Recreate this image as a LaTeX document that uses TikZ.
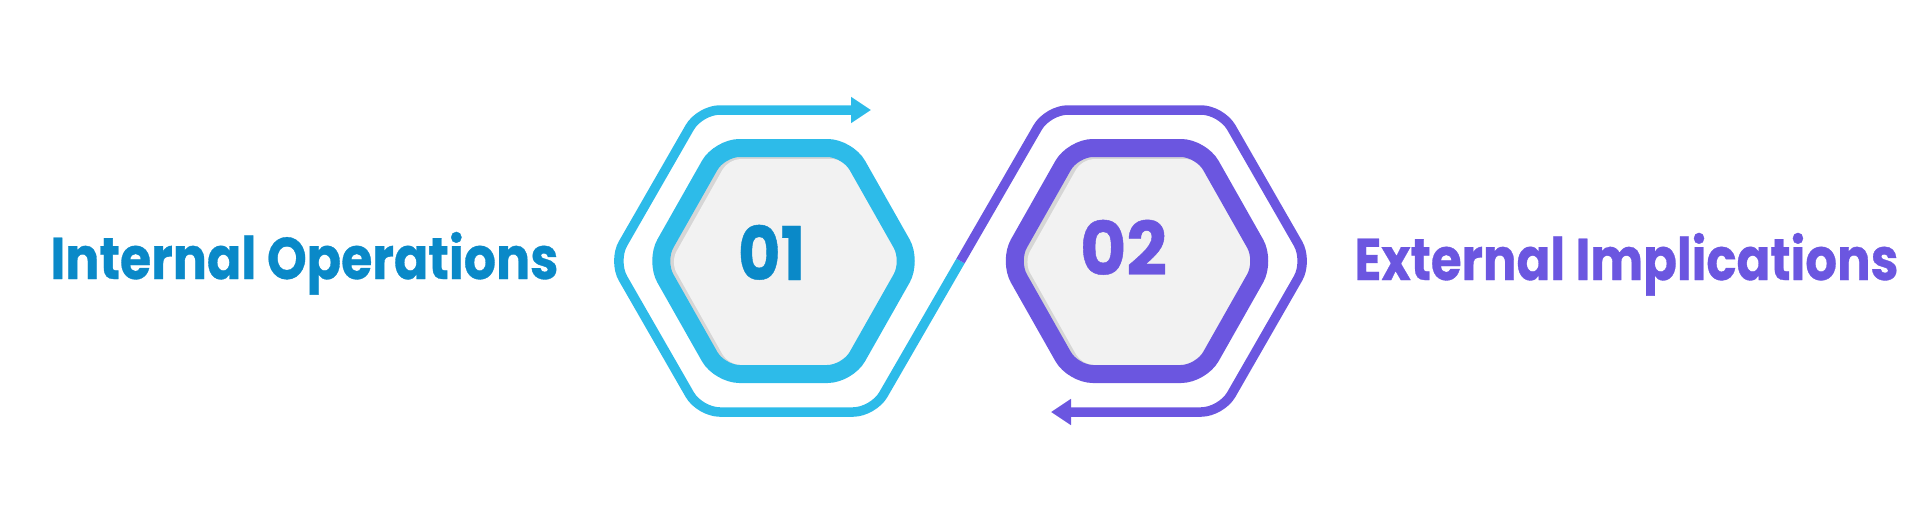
\documentclass[tikz,border=0pt]{standalone}
\usepackage{fontspec}
\usepackage{graphicx}
\setmainfont{Poppins}[BoldFeatures={FakeBold=0.6}]
\usetikzlibrary{arrows.meta}
\definecolor{bandblue}{HTML}{2DBBE9}
\definecolor{txtblue}{HTML}{0A89C8}
\definecolor{purp}{HTML}{6B56E0}
\definecolor{grayfill}{HTML}{F2F2F2}
\definecolor{grayshadow}{HTML}{D6D6D6}
\newcommand\hexat[4]{({#1-#3},#2) -- ({#1-#3/2},{#2-#4}) -- ({#1+#3/2},{#2-#4}) -- ({#1+#3},#2) -- ({#1+#3/2},{#2+#4}) -- ({#1-#3/2},{#2+#4}) -- cycle}
\begin{document}
\begin{tikzpicture}[x=0.5pt,y=-0.5pt,
  outerline/.style={line width=4.75pt, rounded corners=10pt},
  band/.style={line width=9pt, rounded corners=10pt},
  tipend/.style={-{Triangle[length=10pt,width=12.5pt]}},
  bigtext/.style={anchor=base west, inner sep=0pt, font=\fontsize{29.4pt}{31pt}\selectfont\bfseries},
  numtext/.style={anchor=base, inner sep=0pt, font=\fontsize{37pt}{40pt}\selectfont\bfseries}]
\useasboundingbox (0,0) rectangle (1920,520);
% inner hexagons (shadow, fill, band)
\foreach \cx/\col in {783.5/bandblue, 1137/purp}{
  \fill[grayshadow, rounded corners=6pt] \hexat{\cx}{261}{119}{105};
  \fill[grayfill, rounded corners=6pt] \hexat{\cx+3}{262}{116}{103};
  \draw[band, \col] \hexat{\cx}{261}{128}{113};
}
% outer path coordinates
\coordinate (mid) at (960.5,261);
\coordinate (aBR) at (873.25,412);
\coordinate (aBL) at (699.75,412);
\coordinate (aL) at (613,261);
\coordinate (aTL) at (699.75,110);
\coordinate (aEnd) at (871,110);
\coordinate (bTL) at (1047.75,110);
\coordinate (bTR) at (1221.25,110);
\coordinate (bR) at (1308,261);
\coordinate (bBR) at (1221.25,412);
\coordinate (bEnd) at (1051,412);
\draw[outerline, bandblue, tipend] (mid) -- (aBR) -- (aBL) -- (aL) -- (aTL) -- (aEnd);
\draw[outerline, purp, tipend] (mid) -- (bTL) -- (bTR) -- (bR) -- (bBR) -- (bEnd);
% texts
\node[bigtext, text=txtblue] (t1) at (50,279) {\resizebox{254pt}{\height}{Internal Operations}};
\node[bigtext, text=purp] (t2) at (1354,280) {\resizebox{272pt}{\height}{External Implications}};
\node[numtext, text=txtblue] (n1) at (771.5,280) {\resizebox{33.5pt}{\height}{01}};
\node[numtext, text=purp] (n2) at (1123.5,275) {\resizebox{43.5pt}{\height}{02}};
\end{tikzpicture}
\end{document}
